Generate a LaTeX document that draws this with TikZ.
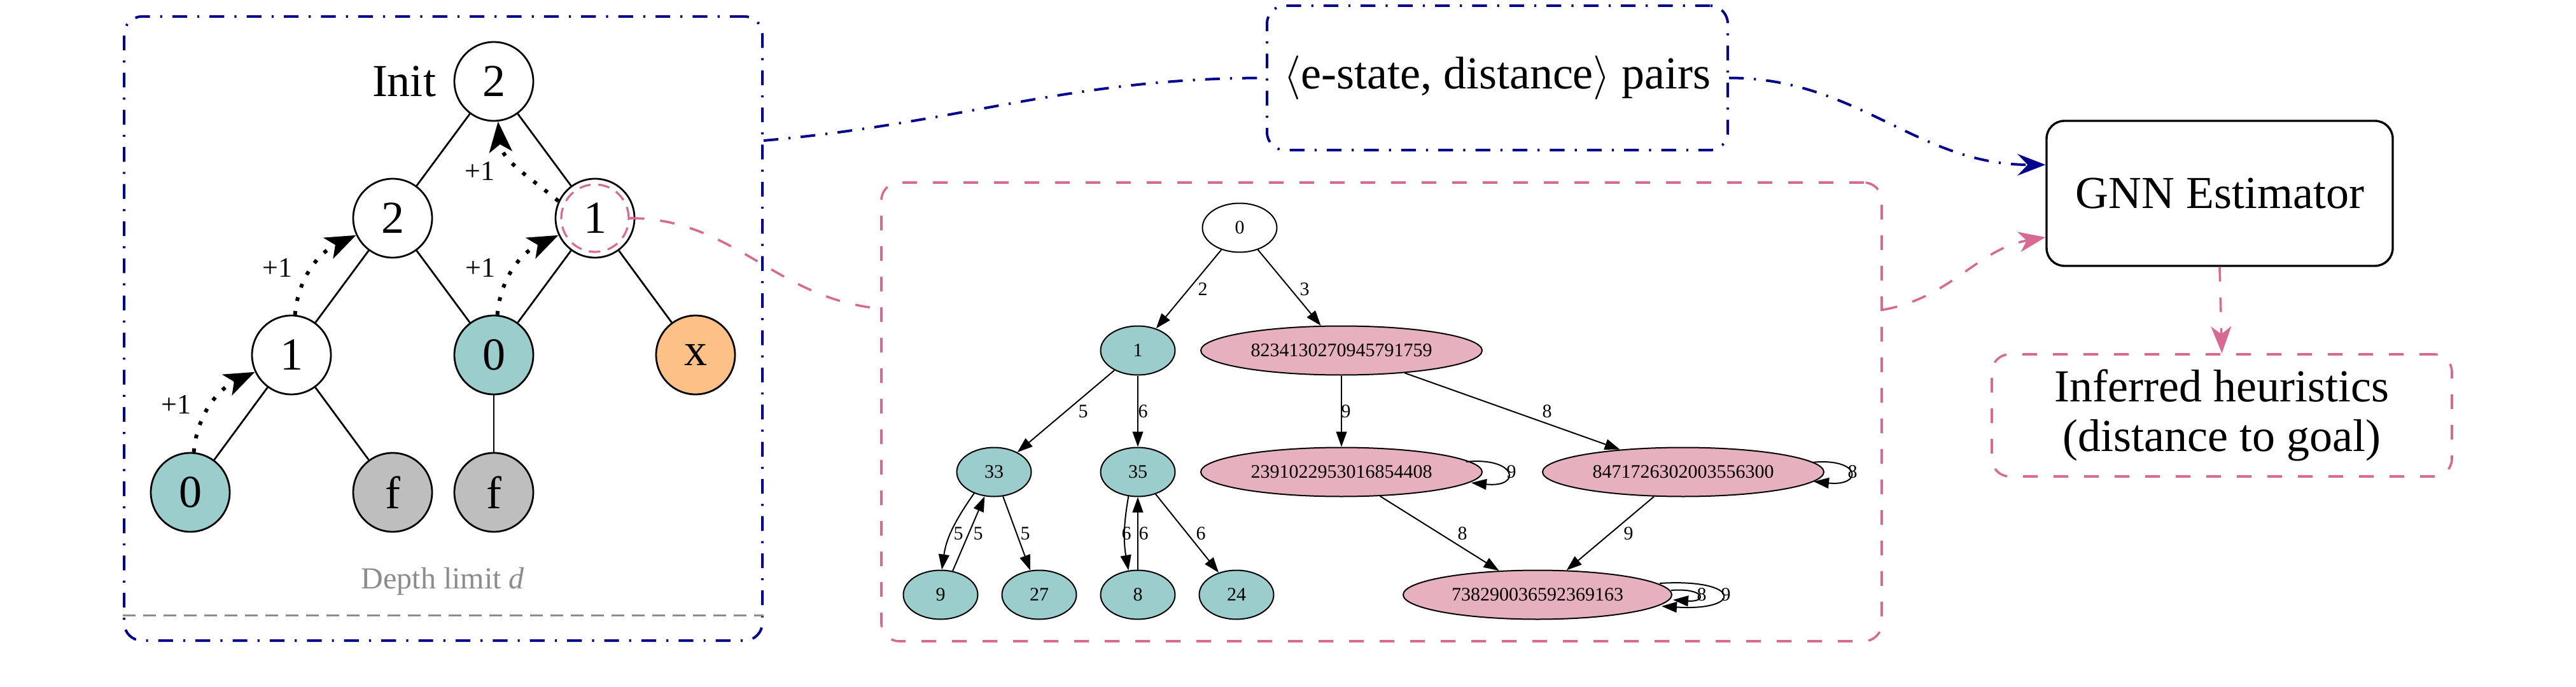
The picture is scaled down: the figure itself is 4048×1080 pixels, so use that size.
\documentclass[tikz,border=0pt]{standalone}
\usepackage{fontspec}
\setmainfont{Liberation Serif}
\usetikzlibrary{arrows.meta,shapes.geometric,calc}
\definecolor{navyblue}{RGB}{0,0,140}
\definecolor{pinkline}{RGB}{214,106,146}
\definecolor{tealfill}{RGB}{155,205,205}
\definecolor{pinkfill}{RGB}{230,176,190}
\definecolor{orangefill}{RGB}{253,192,134}
\definecolor{greyfill}{RGB}{190,190,190}
\definecolor{depthgrey}{RGB}{140,140,140}
\begin{document}
\begin{tikzpicture}[x=0.25pt,y=0.25pt,
  bluebox/.style={draw=navyblue,line width=1pt,dash pattern=on 5.8pt off 4pt on 0.8pt off 4pt,rounded corners=7pt,inner sep=0pt},
  pinkbox/.style={draw=pinkline,line width=0.9pt,dash pattern=on 5.75pt off 6.25pt,rounded corners=7pt,inner sep=0pt},
  solidbox/.style={draw=black,line width=0.85pt,rounded corners=7pt,inner sep=0pt},
  blueconn/.style={draw=navyblue,line width=1pt,dash pattern=on 5.8pt off 4pt on 0.8pt off 4pt},
  pinkconn/.style={draw=pinkline,line width=0.9pt,dash pattern=on 5.75pt off 6.25pt},
  bluetip/.style={-{Stealth[length=11pt,width=8.5pt,inset=4pt]}},
  pinktip/.style={-{Stealth[length=10.5pt,width=8pt,inset=3pt]}},
  bigtext/.style={font=\fontsize{18}{19.5}\selectfont},
  treenode/.style={circle,draw,line width=0.7pt,minimum size=31pt,inner sep=0pt,font=\fontsize{18}{18}\selectfont},
  treeedge/.style={line width=0.7pt},
  upstep/.style={line width=1.5pt,dash pattern=on 1.5pt off 4pt,-{Stealth[length=12pt,width=9pt,inset=3pt]}},
  pluslabel/.style={font=\fontsize{11}{11}\selectfont,inner sep=0pt},
  gnode/.style={ellipse,draw,line width=0.5pt,inner sep=0pt,minimum height=19.25pt,font=\fontsize{7.5}{8}\selectfont},
  gsmall/.style={gnode,minimum width=29.25pt},
  gbig/.style={gnode,minimum width=110.5pt,fill=pinkfill},
  gedge/.style={line width=0.5pt,-{Triangle[length=6pt,width=4.2pt]}},
  elabel/.style={font=\fontsize{7.5}{8}\selectfont,inner sep=0pt}
]
\useasboundingbox (0,0) rectangle (4048,-1080);

% ---------- left box: search tree ----------
\node[bluebox,minimum width=250.75pt,minimum height=245.25pt] (leftbox) at (696.5,-516.5) {};
\draw[depthgrey,line width=0.75pt,dash pattern=on 5pt off 3pt] (leftbox.west |- 0,-967) -- (leftbox.east |- 0,-967);
\node[font=\fontsize{12}{12}\selectfont,text=depthgrey] (depth) at (696,-914) {Depth limit \textit{d}};

\node[treenode] (init) at (776,-128) {2};
\node[bigtext,inner sep=0pt] (initlabel) at (635,-128.5) {Init};
\node[treenode] (a) at (617,-343) {2};
\node[treenode] (b) at (935,-343) {1};
\node[treenode] (c) at (458,-558) {1};
\node[treenode,fill=tealfill] (d) at (776,-558) {0};
\node[treenode,fill=orangefill] (e) at (1093,-558) {x};
\node[treenode,fill=tealfill] (f) at (299,-774) {0};
\node[treenode,fill=greyfill] (g) at (617,-774) {f};
\node[treenode,fill=greyfill] (h) at (776,-774) {f};
\node[circle,draw=pinkline,line width=0.8pt,dash pattern=on 4.5pt off 3pt,minimum size=26.5pt,inner sep=0pt] (bc) at (b) {};

\draw[treeedge] (init) -- (a);
\draw[treeedge] (init) -- (b);
\draw[treeedge] (a) -- (c);
\draw[treeedge] (a) -- (d);
\draw[treeedge] (b) -- (d);
\draw[treeedge] (b) -- (e);
\draw[treeedge] (c) -- (f);
\draw[treeedge] (c) -- (g);
\draw[treeedge] (d) -- (h);

\draw[upstep] (f.85) to[out=85,in=205] (c.205);
\draw[upstep] (c.85) to[out=85,in=205] (a.205);
\draw[upstep] (d.85) to[out=85,in=205] (b.205);
\draw[upstep] (b.155) to[out=140,in=-85] (init.-84);
\node[pluslabel] (p1) at (277,-636) {+1};
\node[pluslabel] (p2) at (436,-421) {+1};
\node[pluslabel] (p3) at (755,-421) {+1};
\node[pluslabel] (p4) at (754,-269) {+1};

% ---------- middle box: graph ----------
\node[pinkbox,minimum width=393pt,minimum height=180.25pt] (graphbox) at (2171,-647.5) {};

\node[gsmall] (n0) at (1948,-358) {0};
\node[gsmall,fill=tealfill] (n1) at (1788,-551) {1};
\node[gbig] (n823) at (2108,-551) {8234130270945791759};
\node[gsmall,fill=tealfill] (n33) at (1562,-742) {33};
\node[gsmall,fill=tealfill] (n35) at (1788,-742) {35};
\node[gbig] (n239) at (2108,-742) {2391022953016854408};
\node[gbig] (n847) at (2645,-742) {8471726302003556300};
\node[gsmall,fill=tealfill] (n9) at (1478,-935) {9};
\node[gsmall,fill=tealfill] (n27) at (1633,-935) {27};
\node[gsmall,fill=tealfill] (n8) at (1788,-935) {8};
\node[gsmall,fill=tealfill] (n24) at (1943,-935) {24};
\node[gbig,minimum width=105.5pt] (n738) at (2416,-935) {738290036592369163};

\draw[gedge] (n0) -- (n1);
\draw[gedge] (n0) -- (n823);
\draw[gedge] (n1) -- (n33);
\draw[gedge] (n1) -- (n35);
\draw[gedge] (n823) -- (n239);
\draw[gedge] (n823) -- (n847);
\draw[gedge] (n33) -- (n27);
\draw[gedge] (n35) -- (n24);
\draw[gedge] (n239) -- (n738);
\draw[gedge] (n847) -- (n738);
\draw[gedge] (n33.227) to[out=235,in=82] (n9.87);
\draw[gedge] (n9.63) -- (n33.249);
\draw[gedge] (n35.249) to[out=260,in=100] (n8.111);
\draw[gedge] (n8.north) -- (n35.south);
\draw[gedge] ($(n239.east)+(-26,16)$) .. controls +(80,8) and +(80,-8) .. ($(n239.east)+(-18,-17)$);
\draw[gedge] ($(n847.east)+(-20,15)$) .. controls +(78,8) and +(78,-8) .. ($(n847.east)+(-17,-15)$);
\draw[gedge] ($(n738.east)+(-20,18)$) .. controls +(129,8) and +(129,-8) .. ($(n738.east)+(-17,-18)$);
\draw[gedge] ($(n738.east)+(-2,7)$) .. controls +(54,4) and +(54,-4) .. ($(n738.east)+(1,-8)$);

\node[elabel] (l1) at (1890,-455) {2};
\node[elabel] (l2) at (2050,-455) {3};
\node[elabel] (l3) at (1702,-647) {5};
\node[elabel] (l4) at (1796,-647) {6};
\node[elabel] (l5) at (2115,-647) {9};
\node[elabel] (l6) at (2431,-647) {8};
\node[elabel] (l7) at (2375,-742) {9};
\node[elabel] (l8) at (2911,-742) {8};
\node[elabel] (l9) at (1506,-839) {5};
\node[elabel] (l10) at (1537,-839) {5};
\node[elabel] (l11) at (1611,-839) {5};
\node[elabel] (l12) at (1770,-839) {6};
\node[elabel] (l13) at (1797,-839) {6};
\node[elabel] (l14) at (1887,-839) {6};
\node[elabel] (l15) at (2298,-839) {8};
\node[elabel] (l16) at (2559,-839) {9};
\node[elabel] (l17) at (2674,-935) {8};
\node[elabel] (l18) at (2712,-935) {9};

% ---------- right side ----------
\node[bluebox,bigtext,minimum width=181pt,minimum height=56.75pt] (pairs) at (2353,-122.5) {$\langle$e-state, distance$\rangle$ pairs};
\node[solidbox,bigtext,minimum width=136pt,minimum height=57pt] (gnn) at (3488,-304) {GNN Estimator};
\node[pinkbox,bigtext,align=center,minimum width=180.75pt,minimum height=48pt] (infer) at (3491.5,-653) {Inferred heuristics\\(distance to goal)};

\coordinate (lbout) at (leftbox.east |- 0,-221);
\coordinate (gnnin1) at (gnn.west |- 0,-259);
\coordinate (gnnin2) at (gnn.west |- 0,-373);
\coordinate (graphout) at (graphbox.east |- 0,-487);
\coordinate (graphin) at (graphbox.west |- 0,-485);

\draw[blueconn] (lbout) to[out=5,in=180] (pairs.west);
\draw[blueconn,bluetip] (pairs.east) to[out=0,in=180] (gnnin1);
\draw[pinkconn,pinktip] (graphout) to[out=10,in=190] (gnnin2);
\draw[pinkconn,pinktip] (gnn.south) -- (infer.north);
\draw[pinkconn] (bc.east) to[out=0,in=175] (graphin);
\end{tikzpicture}
\end{document}
